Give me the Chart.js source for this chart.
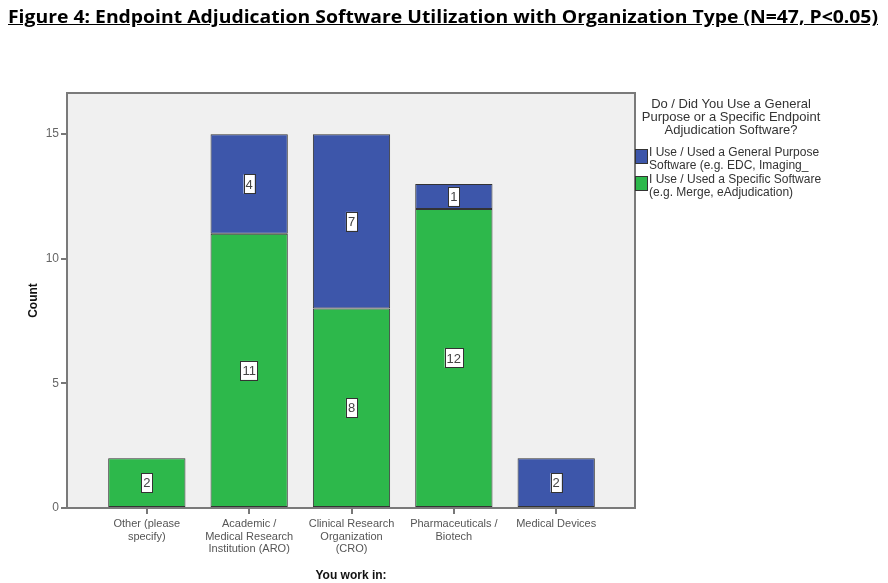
<!DOCTYPE html>
<html>
<head>
<meta charset="utf-8">
<script src="https://cdn.jsdelivr.net/npm/chart.js@4.4.1/dist/chart.umd.min.js"></script>
<style>
  body { margin: 0; background: #fff; }
  #wrap { position: relative; width: 888px; height: 583px; overflow: hidden; }
  #chart { position: absolute; left: 0; top: 0; }
  #title {
    position: absolute; left: 8px; top: 5px; white-space: nowrap;
    font: bold 17px "Open Sans", sans-serif; color: #000;
    text-decoration: underline; transform-origin: 0 0;
  }
  #legend {
    position: absolute; left: 635px; top: 97px; width: 192px;
    font: 13px "Liberation Sans", Arial, sans-serif; color: #333; line-height: 13px;
    white-space: nowrap;
  }
  #legend .head { text-align: center; margin-bottom: 10px; }
  #legend .item { position: relative; padding-left: 14px; height: 27px; font-size: 12px; }
  #legend .box { position: absolute; left: 0; top: 3px; width: 11px; height: 13px; border: 1px solid #333; }
</style>
</head>
<body>
<div id="wrap">
  <canvas id="chart" width="888" height="583"></canvas>
  <div id="title">Figure 4: Endpoint Adjudication Software Utilization with Organization Type (N=47, P&lt;0.05)</div>
  <div id="legend"></div>
</div>
<script>
// categories (x axis), each one split into its label lines
const categories = [
  ['Other (please', 'specify)'],
  ['Academic /', 'Medical Research', 'Institution (ARO)'],
  ['Clinical Research', 'Organization', '(CRO)'],
  ['Pharmaceuticals /', 'Biotech'],
  ['Medical Devices']
];

const legendTitle = ['Do / Did You Use a General', 'Purpose or a Specific Endpoint', 'Adjudication Software?'];
const generalName = ['I Use / Used a General Purpose', 'Software (e.g. EDC, Imaging_'];
const specificName = ['I Use / Used a Specific Software', '(e.g. Merge, eAdjudication)'];

// counts per category
const generalCounts = [0, 4, 7, 1, 2];
const specificCounts = [2, 11, 8, 12, 0];

const yTicks = [0, 5, 10, 15];

const BLUE = '#3d56aa';
const GREEN = '#2db84b';

function toPoints(values) {
  return values.map((v, i) => ({ x: i, y: v ? v : null }));
}

// grey plot background + frame
const plotFrame = {
  id: 'plotFrame',
  beforeDraw(chart) {
    const { ctx, chartArea: a } = chart;
    ctx.save();
    ctx.fillStyle = '#f0f0f0';
    ctx.fillRect(a.left, a.top, a.right - a.left, a.bottom - a.top);
    ctx.restore();
  },
  afterDraw(chart) {
    const { ctx, chartArea: a } = chart;
    ctx.save();
    ctx.strokeStyle = '#7a7a7a';
    ctx.lineWidth = 2;
    ctx.strokeRect(a.left, a.top, a.right - a.left, a.bottom - a.top);
    ctx.restore();
  }
};

// boxed value labels in the middle of each segment
const boxLabels = {
  id: 'boxLabels',
  afterDatasetsDraw(chart) {
    const ctx = chart.ctx;
    ctx.save();
    ctx.font = '13px "Liberation Sans", Arial, sans-serif';
    ctx.textAlign = 'center';
    ctx.textBaseline = 'middle';
    chart.data.datasets.forEach((ds, di) => {
      const meta = chart.getDatasetMeta(di);
      meta.data.forEach((el, i) => {
        const v = ds.data[i].y;
        if (!v) return;
        const cx = el.x;
        const cy = (el.y + el.base) / 2;
        const txt = String(v);
        const w = ctx.measureText(txt).width + 4;
        const h = 19;
        ctx.fillStyle = '#fff';
        ctx.fillRect(cx - w / 2, cy - h / 2, w, h);
        ctx.strokeStyle = '#333';
        ctx.lineWidth = 1;
        ctx.strokeRect(Math.round(cx - w / 2) + 0.5, Math.round(cy - h / 2) + 0.5, Math.round(w), h);
        ctx.fillStyle = '#444';
        ctx.fillText(txt, cx, cy + 1);
      });
    });
    ctx.restore();
  }
};

const ctx = document.getElementById('chart').getContext('2d');

const chart = new Chart(ctx, {
  type: 'bar',
  data: {
    datasets: [
      {
        label: specificName.join(' '),
        data: toPoints(specificCounts),
        backgroundColor: GREEN,
        borderColor: '#333',
        borderWidth: 1,
        borderSkipped: false
      },
      {
        label: generalName.join(' '),
        data: toPoints(generalCounts),
        backgroundColor: BLUE,
        borderColor: '#333',
        borderWidth: 1,
        borderSkipped: false
      }
    ]
  },
  options: {
    responsive: false,
    animation: false,
    categoryPercentage: 1,
    barPercentage: 0.755,
    layout: { padding: { top: 93, right: 253, left: 0, bottom: 0 } },
    plugins: {
      legend: { display: false },
      tooltip: { enabled: false }
    },
    scales: {
      x: {
        type: 'linear',
        stacked: true,
        offset: false,
        min: -0.78,
        max: 4.77,
        afterBuildTicks: (scale) => {
          scale.ticks = categories.map((c, i) => ({ value: i }));
        },
        afterFit: (scale) => { scale.height = 75; },
        ticks: {
          autoSkip: false,
          maxRotation: 0,
          padding: 4,
          color: '#555',
          font: { family: '"Liberation Sans", Arial, sans-serif', size: 11, lineHeight: 1.12 },
          callback: (v) => categories[v] || ''
        },
        grid: { offset: false, drawOnChartArea: false, tickLength: 6, color: '#777', lineWidth: 2 },
        border: { display: false },
        title: {
          display: true,
          text: 'You work in:',
          color: '#111',
          font: { family: '"Liberation Sans", Arial, sans-serif', size: 12, weight: 'bold' },
          padding: { top: 5, bottom: 0 }
        }
      },
      y: {
        stacked: true,
        min: 0,
        max: 16.65,
        afterBuildTicks: (scale) => {
          scale.ticks = yTicks.map(v => ({ value: v }));
        },
        afterFit: (scale) => { scale.width = 67; },
        ticks: {
          includeBounds: false,
          padding: 2,
          color: '#666',
          font: { family: '"Liberation Sans", Arial, sans-serif', size: 12 }
        },
        grid: { drawOnChartArea: false, tickLength: 6, color: '#777', lineWidth: 2 },
        border: { display: false },
        title: {
          display: true,
          text: 'Count',
          color: '#111',
          font: { family: '"Liberation Sans", Arial, sans-serif', size: 12, weight: 'bold' },
          padding: { top: 26, bottom: 0 }
        }
      }
    }
  },
  plugins: [plotFrame, boxLabels]
});

// legend built from the dataset colours, general purpose listed first
const legend = document.getElementById('legend');
let html = '<div class="head">' + legendTitle.join('<br>') + '</div>';
[[generalName, BLUE], [specificName, GREEN]].forEach(([lines, col]) => {
  html += '<div class="item"><span class="box" style="background:' + col + '"></span>' + lines.join('<br>') + '</div>';
});
legend.innerHTML = html;

// stretch the title to the width of the original
const title = document.getElementById('title');
const tw = title.getBoundingClientRect().width;
title.style.transform = 'scaleX(' + (870 / tw) + ')';
</script>
</body>
</html>
